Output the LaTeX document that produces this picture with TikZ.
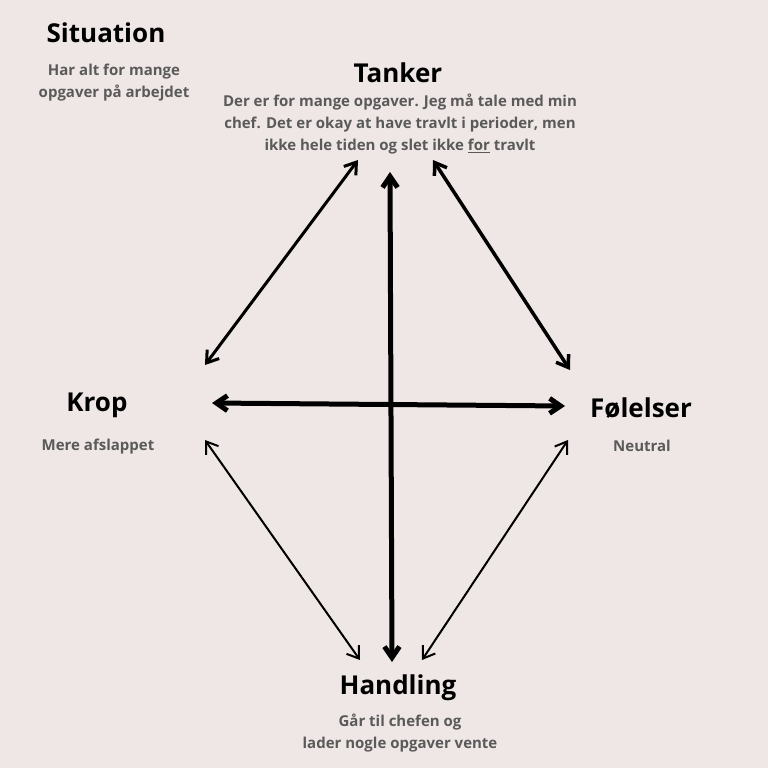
\documentclass[tikz,border=0pt]{standalone}
\usepackage{fontspec}
\setmainfont{Open Sans}
\usetikzlibrary{arrows.meta}
\definecolor{bg}{HTML}{EFE7E5}
\definecolor{desc}{HTML}{5A5A5A}
\begin{document}
\begin{tikzpicture}[x=1pt,y=-1pt,
  head/.style={font=\fontsize{26}{30}\selectfont\bfseries,text=black},
  dsc/.style={font=\fontsize{15}{22}\selectfont\bfseries,text=desc,align=center},
  arr/.style={{Straight Barb[length=11pt,width=15pt]}-{Straight Barb[length=11pt,width=15pt]},black,line cap=round}]
\fill[bg] (0,0) rectangle (768,768);
\node[head] (sit) at (106,33) {Situation};
\node[dsc] (sitd) at (114,83) {Har alt for mange\\opgaver på arbejdet};
\node[head] (tan) at (398,73) {Tanker};
\node[dsc] (tand) at (400,124) {Der er for mange opgaver. Jeg må tale med min\\chef. Det er okay at have travlt i perioder, men\\ikke hele tiden og slet ikke \underline{for} travlt};
\node[head] (krop) at (97,405) {Krop};
\node[dsc] (kropd) at (98,447) {Mere afslappet};
\node[head] (fol) at (641,408) {Følelser};
\node[dsc] (fold) at (642,446) {Neutral};
\node[head] (han) at (398,688) {Handling};
\node[dsc] (hand) at (400,733) {Går til chefen og\\lader nogle opgaver vente};
\coordinate (vt) at (390,172); \coordinate (vb) at (392,662);
\coordinate (hl) at (212,403); \coordinate (hr) at (565,406);
\coordinate (tl1) at (358,160); \coordinate (tl2) at (205,365);
\coordinate (tr1) at (433,160); \coordinate (tr2) at (570,370);
\coordinate (bl1) at (205,440); \coordinate (bl2) at (360,660);
\coordinate (br1) at (568,440); \coordinate (br2) at (422,660);
\draw[arr,line width=5pt] (vt) -- (vb);
\draw[arr,line width=5pt] (hl) -- (hr);
\draw[arr,line width=3pt] (tl1) -- (tl2);
\draw[arr,line width=3.5pt] (tr1) -- (tr2);
\draw[arr,line width=2pt] (bl1) -- (bl2);
\draw[arr,line width=2pt] (br1) -- (br2);
\end{tikzpicture}
\end{document}
